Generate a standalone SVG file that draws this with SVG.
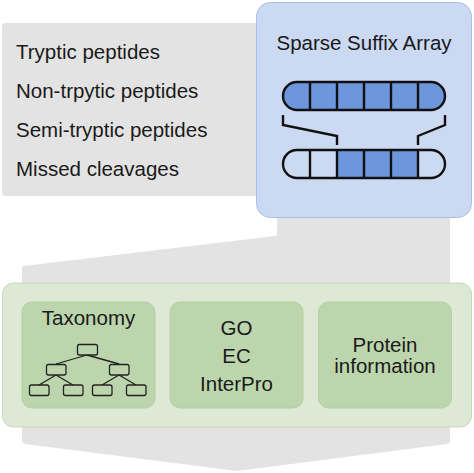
<svg xmlns="http://www.w3.org/2000/svg" width="474" height="473" viewBox="0 0 474 473">
<style>
text{font-family:"Liberation Sans",Arial,sans-serif;font-size:20.500px;fill:#1a1a1a}
.c{text-anchor:middle}
.seg{stroke:#111;stroke-width:2.400;fill:none}
.dark{fill:#6d96dc}
.light{fill:#ccd9f3}
.inner{fill:#bcd5ac;stroke:#b4cfa4;stroke-width:1}
.t{fill:#bcd5ac;stroke:#222;stroke-width:1.300}
.e{stroke:#222;stroke-width:1.300;fill:none}
</style>
<rect width="474" height="473" fill="#fff"/>
<g id="funnel"><path d="M24 266L275 236Q277 236 277 234V218H450V441Q450 444 447 444L237 471L25 444Q22 443 22 440V269Q22 266 24 266Z" fill="#e3e3e3"/></g>
<g id="inputs">
<rect x="2" y="23" width="270" height="173" rx="4" fill="#e3e3e3"/>
<text x="16" y="59">Tryptic peptides</text>
<text x="16" y="98">Non-trpytic peptides</text>
<text x="16" y="137">Semi-tryptic peptides</text>
<text x="16" y="176">Missed cleavages</text>
</g>
<g id="sparse-suffix-array">
<rect x="256.500" y="2.500" width="215" height="215" rx="14" fill="#ccd9f3" stroke="#a9bfe3" stroke-width="1"/>
<text class="c" x="364" y="50">Sparse Suffix Array</text>
<g id="top-bar">
<path class="dark" d="M297 82H431A14 14 0 0 1 431 110H297A14 14 0 0 1 297 82Z"/>
<path class="seg" d="M297 82H431A14 14 0 0 1 431 110H297A14 14 0 0 1 297 82ZM310 82V110M337 82V110M364 82V110M391 82V110M418 82V110"/>
</g>
<g id="bottom-bar">
<path class="light" d="M297 150H431A14 14 0 0 1 431 178H297A14 14 0 0 1 297 150Z"/>
<rect class="dark" x="337" y="150" width="81" height="28"/>
<path class="seg" d="M297 150H431A14 14 0 0 1 431 178H297A14 14 0 0 1 297 150ZM310 150V178M337 150V178M364 150V178M391 150V178M418 150V178"/>
</g>
</g>
<g id="connectors"><path class="seg" d="M283 115V125L337 136V145M445 115V125L418 136V145"/></g>
<g id="annotations">
<rect x="2.500" y="283" width="469" height="144" rx="11" fill="#dde9d4" stroke="#c4d9b6" stroke-width="1"/>
<g id="taxonomy">
<rect class="inner" x="22" y="302" width="133" height="106" rx="10"/>
<text class="c" x="88.500" y="325">Taxonomy</text>
<path class="e" d="M87 355L56 364M87 355L119 364M56 375L39 385M56 375L73 385M119 375L102 385M119 375L136 385"/>
<rect class="t" x="77.500" y="344.500" width="20" height="10.500" rx="2"/>
<rect class="t" x="46.500" y="364.500" width="19.500" height="10.500" rx="2"/>
<rect class="t" x="109.500" y="364.500" width="19.500" height="10.500" rx="2"/>
<rect class="t" x="29.500" y="385" width="19.500" height="10.500" rx="2"/>
<rect class="t" x="63.500" y="385" width="19.500" height="10.500" rx="2"/>
<rect class="t" x="92.500" y="385" width="19.500" height="10.500" rx="2"/>
<rect class="t" x="126.500" y="385" width="19.500" height="10.500" rx="2"/>
</g>
<g id="go-ec-interpro">
<rect class="inner" x="170" y="302" width="133" height="106" rx="10"/>
<text class="c" x="236.500" y="335">GO</text>
<text class="c" x="236.500" y="363">EC</text>
<text class="c" x="236.500" y="391">InterPro</text>
</g>
<g id="protein-information">
<rect class="inner" x="318.500" y="302" width="133" height="106" rx="10"/>
<text class="c" x="385" y="352">Protein</text>
<text class="c" x="385" y="373">information</text>
</g>
</g>
</svg>
